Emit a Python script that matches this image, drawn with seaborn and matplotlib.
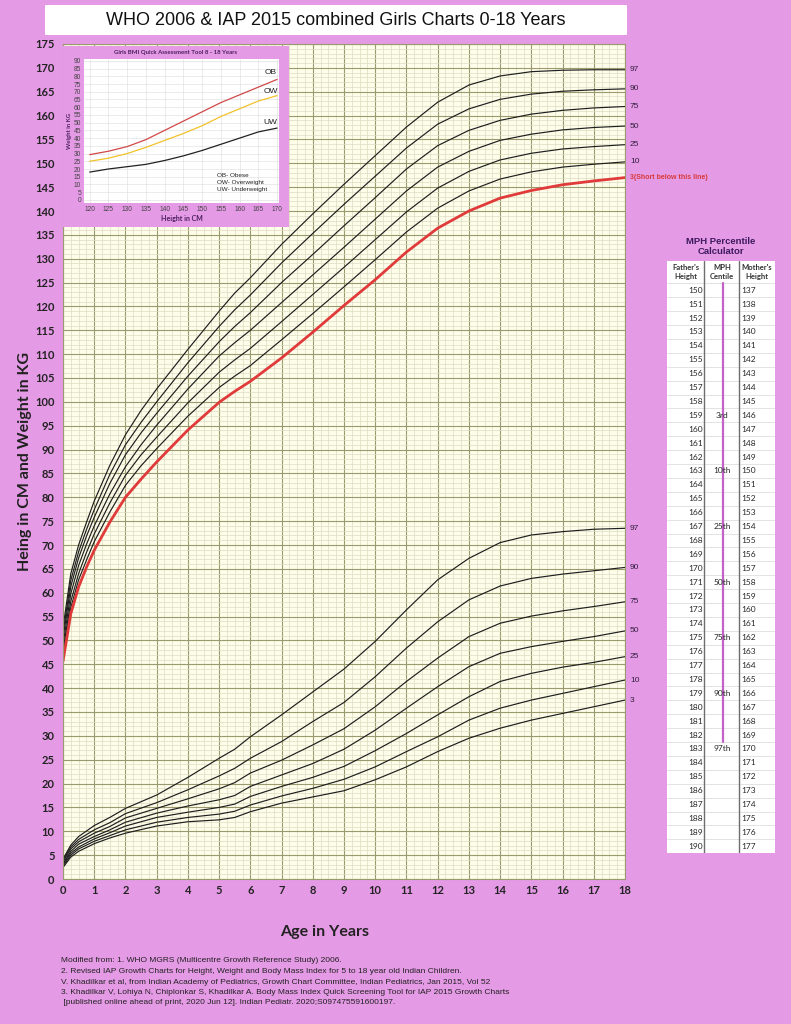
import numpy as np
import pandas as pd
import matplotlib
matplotlib.use("Agg")
import matplotlib.pyplot as plt
import seaborn as sns
from matplotlib.patches import Rectangle

# -----------------------------
# Data
# -----------------------------
pct_labels = ["97", "90", "75", "50", "25", "10", "3"]

# height (cm) by age
ages_h = [0, 0.25, 0.5, 0.75, 1, 1.5, 2, 2.5, 3, 4, 5, 5.5, 6, 7, 8, 9, 10, 11, 12, 13, 14, 15, 16, 17, 18]
h97 = [52.7, 64.0, 70.0, 74.7, 79.2, 86.7, 93.1, 98.2, 102.7, 111.0, 119.0, 122.8, 126.0, 133.0, 139.4, 145.6, 151.6, 157.6, 162.8, 166.4, 168.3, 169.2, 169.5, 169.6, 169.6]
h90 = [51.5, 62.6, 68.6, 73.2, 77.4, 84.8, 91.0, 95.7, 100.0, 108.2, 115.8, 119.3, 122.4, 129.1, 135.3, 141.4, 147.3, 153.2, 158.2, 161.4, 163.4, 164.5, 165.1, 165.4, 165.6]
h75 = [50.4, 61.3, 67.3, 71.8, 75.8, 82.9, 88.9, 93.5, 97.6, 105.4, 112.6, 115.8, 118.7, 125.0, 130.9, 136.9, 142.8, 148.8, 153.7, 156.9, 159.0, 160.3, 161.1, 161.6, 161.9]
h50 = [49.1, 59.8, 65.7, 70.1, 74.0, 80.7, 86.4, 91.0, 95.1, 102.7, 109.6, 112.4, 115.0, 120.8, 126.6, 132.4, 138.3, 144.2, 149.2, 152.5, 154.8, 156.1, 157.0, 157.5, 157.8]
h25 = [47.9, 58.2, 64.0, 68.4, 72.3, 78.8, 84.6, 88.9, 92.6, 99.8, 106.2, 108.8, 111.2, 116.8, 122.5, 128.2, 134.0, 139.8, 144.8, 148.3, 150.7, 152.1, 153.0, 153.5, 153.9]
h10 = [46.8, 56.9, 62.7, 66.8, 70.7, 76.9, 82.5, 86.6, 90.2, 97.0, 103.0, 105.4, 107.6, 113.0, 118.5, 124.1, 129.8, 135.6, 140.6, 144.2, 146.7, 148.2, 149.2, 149.8, 150.3]
h3 = [45.6, 55.6, 61.2, 65.3, 68.9, 74.8, 80.0, 83.8, 87.4, 94.1, 99.9, 102.2, 104.3, 109.2, 114.6, 120.2, 125.6, 131.4, 136.4, 140.0, 142.7, 144.3, 145.5, 146.3, 147.0]

# weight (kg) by age
ages_w = [0, 0.25, 0.5, 1, 1.5, 2, 3, 4, 5, 5.5, 6, 7, 8, 9, 10, 11, 12, 13, 14, 15, 16, 17, 18]
w97 = [4.2, 7.1, 8.9, 11.2, 12.9, 14.8, 17.6, 21.3, 25.3, 27.2, 29.8, 34.4, 39.2, 44.0, 49.8, 56.4, 62.7, 67.2, 70.5, 72.1, 72.8, 73.3, 73.5]
w90 = [3.9, 6.7, 8.3, 10.3, 11.8, 13.7, 16.0, 18.7, 21.6, 23.2, 25.3, 28.8, 33.0, 37.0, 42.4, 48.4, 53.9, 58.5, 61.4, 63.0, 63.9, 64.6, 65.3]
w75 = [3.6, 6.3, 7.8, 9.6, 11.0, 12.8, 14.8, 16.8, 18.9, 20.2, 22.2, 24.9, 28.1, 31.5, 36.1, 41.4, 46.3, 50.8, 53.6, 55.1, 56.2, 57.1, 58.1]
w50 = [3.2, 5.8, 7.3, 8.9, 10.3, 11.9, 13.8, 15.3, 16.6, 17.5, 19.4, 21.8, 24.2, 27.2, 31.2, 35.8, 40.3, 44.5, 47.3, 48.7, 49.8, 50.8, 52.0]
w25 = [3.0, 5.4, 6.7, 8.4, 9.7, 11.1, 12.9, 14.0, 15.0, 15.7, 17.3, 19.4, 21.3, 23.6, 26.9, 30.5, 34.4, 38.2, 41.4, 43.1, 44.4, 45.4, 46.6]
w10 = [2.7, 5.0, 6.3, 7.9, 9.1, 10.3, 11.9, 12.9, 13.6, 14.2, 15.5, 17.4, 19.0, 20.9, 23.5, 26.7, 29.8, 33.3, 35.8, 37.5, 38.9, 40.3, 41.7]
w3 = [2.4, 4.6, 5.8, 7.4, 8.6, 9.6, 11.1, 12.0, 12.4, 12.9, 14.1, 15.9, 17.2, 18.5, 20.8, 23.5, 26.7, 29.5, 31.6, 33.3, 34.7, 36.1, 37.5]

# BMI quick assessment inset
bmi_height = [120, 125, 130, 135, 140, 145, 150, 155, 160, 165, 170]
bmi_ob = [29.3, 31.5, 34.5, 39.0, 45.0, 51.0, 57.0, 63.0, 68.0, 73.0, 78.0]
bmi_ow = [25.0, 27.0, 30.0, 34.0, 38.5, 43.0, 48.0, 54.0, 59.0, 64.0, 67.5]
bmi_uw = [18.0, 20.0, 21.5, 23.0, 25.5, 28.5, 32.0, 36.0, 40.0, 44.0, 46.5]

# MPH percentile calculator
father_h = [150, 151, 152, 153, 154, 155, 156, 157, 158, 159, 160, 161, 162, 163, 164, 165, 166, 167, 168, 169,
            170, 171, 172, 173, 174, 175, 176, 177, 178, 179, 180, 181, 182, 183, 184, 185, 186, 187, 188, 189, 190]
mother_h = [137, 138, 139, 140, 141, 142, 143, 144, 145, 146, 147, 148, 149, 150, 151, 152, 153, 154, 155, 156,
            157, 158, 159, 160, 161, 162, 163, 164, 165, 166, 167, 168, 169, 170, 171, 172, 173, 174, 175, 176, 177]
centile_names = ["3rd", "10th", "25th", "50th", "75th", "90th", "97th"]
centile_father = [159, 163, 167, 171, 175, 179, 183]
mph_bar = [150, 182]

refs = [
    "Modified from: 1. WHO MGRS (Multicentre Growth Reference Study) 2006.",
    "2. Revised IAP Growth Charts for Height, Weight and Body Mass Index for 5 to 18 year old Indian Children.",
    "V. Khadilkar et al, from Indian Academy of Pediatrics, Growth Chart Committee, Indian Pediatrics, Jan 2015, Vol 52",
    "3. Khadilkar V, Lohiya N, Chiplonkar S, Khadilkar A. Body Mass Index Quick Screening Tool for IAP 2015 Growth Charts",
    " [published online ahead of print, 2020 Jun 12]. Indian Pediatr. 2020;S097475591600197.",
]

# -----------------------------
# Style
# -----------------------------
sns.set_style("white")
plt.rcParams["font.family"] = ["Liberation Sans", "DejaVu Sans"]
LATO = ["Lato", "DejaVu Sans"]

PINK = "#e59ae6"
CREAM = "#fdfdea"
W, H = 791, 1024


def fx(px):
    return px / W


def fy(py):
    return 1 - py / H


fig = plt.figure(figsize=(7.91, 10.24), dpi=100, facecolor=PINK)

# title box
fig.patches.append(Rectangle((fx(45), fy(35)), fx(627) - fx(45), fy(5) - fy(35),
                             transform=fig.transFigure, facecolor="white", edgecolor="none"))
fig.text(fx(336), fy(20.5), "WHO 2006 & IAP 2015 combined Girls Charts 0-18 Years",
         ha="center", va="center", fontsize=13, color="#111111")

# -----------------------------
# Main growth chart
# -----------------------------
ax = fig.add_axes([fx(63), fy(879), fx(625) - fx(63), fy(44) - fy(879)])
ax.set_facecolor(CREAM)
ax.set_xlim(0, 18)
ax.set_ylim(0, 175)
ax.set_xticks(np.arange(0, 19, 1))
ax.set_xticks(np.arange(0, 18.01, 0.25), minor=True)
ax.set_yticks(np.arange(0, 176, 5))
ax.set_yticks(np.arange(0, 176, 1), minor=True)
ax.grid(which="major", color="#9a9a6e", lw=0.8)
ax.grid(which="minor", color="#dcdcc2", lw=0.5)
ax.set_axisbelow(True)
ax.tick_params(which="both", length=0)
ax.tick_params(axis="y", pad=6, labelsize=8)
ax.tick_params(axis="x", pad=4, labelsize=8)
for t in ax.get_xticklabels() + ax.get_yticklabels():
    t.set_fontweight("bold")
    t.set_fontfamily(LATO)
    t.set_color("#222222")
for s in ax.spines.values():
    s.set_color("#9a9a6e")
    s.set_linewidth(0.8)

height_series = [h97, h90, h75, h50, h25, h10, h3]
weight_series = [w97, w90, w75, w50, w25, w10, w3]

for vals, lab in zip(height_series, pct_labels):
    red = lab == "3"
    sns.lineplot(x=ages_h, y=vals, ax=ax, color="#e03a3a" if red else "#1e1e1e",
                 lw=2.0 if red else 0.85)
    if red:
        ax.text(18.16, vals[-1], "3(Short below this line)", va="center", ha="left",
                fontsize=5, fontweight="bold", color="#d83a3a", clip_on=False)
    else:
        ax.text(18.16, vals[-1], lab, va="center", ha="left", fontsize=6,
                color="#332040", clip_on=False)

for vals, lab in zip(weight_series, pct_labels):
    sns.lineplot(x=ages_w, y=vals, ax=ax, color="#1e1e1e", lw=0.85)
    ax.text(18.16, vals[-1], lab, va="center", ha="left", fontsize=6,
            color="#332040", clip_on=False)

ax.set_xlabel("Age in Years", fontsize=11.5, fontweight="bold", color="#222222", family=LATO)
ax.xaxis.set_label_coords(0.466, -0.055)
ax.set_ylabel("Heing in CM and Weight in KG", fontsize=11.5, fontweight="bold",
              color="#222222", family=LATO)
ax.yaxis.set_label_coords(-0.055, 0.5)

# -----------------------------
# BMI inset
# -----------------------------
box = fig.add_axes([fx(63), fy(227), fx(289) - fx(63), fy(45.5) - fy(227)])
box.set_facecolor(PINK)
box.set_xticks([])
box.set_yticks([])
for s in box.spines.values():
    s.set_visible(False)

fig.text(fx(175), fy(52.7), "Girls BMI Quick Assessment Tool 8 - 18 Years", ha="center",
         va="center", fontsize=4.3, fontweight="bold", color="#4b1e5e", family=LATO)

ins = fig.add_axes([fx(84), fy(203), fx(279) - fx(84), fy(59.3) - fy(203)])
ins.set_facecolor("white")
ins.set_xlim(118.5, 170.5)
ins.set_ylim(-2, 91)
ins.set_xticks(np.arange(120, 171, 5))
ins.set_yticks(np.arange(0, 91, 5))
ins.grid(color="#dcdcdc", lw=0.4)
ins.tick_params(length=0, labelsize=4.8, pad=2, colors="#444444")
for s in ins.spines.values():
    s.set_visible(False)
sns.lineplot(x=bmi_height, y=bmi_ob, ax=ins, color="#d04848", lw=0.9)
sns.lineplot(x=bmi_height, y=bmi_ow, ax=ins, color="#f0c22a", lw=0.9)
sns.lineplot(x=bmi_height, y=bmi_uw, ax=ins, color="#222222", lw=0.9)
ins.text(168.2, 82.3, "OB", ha="center", va="center", fontsize=6, color="#222222")
ins.text(168.2, 69.9, "OW", ha="center", va="center", fontsize=6, color="#222222")
ins.text(168.2, 49.9, "UW", ha="center", va="center", fontsize=6, color="#222222")
ins.text(154.0, 15.6, "OB- Obese", ha="left", va="center", fontsize=4.6, color="#222222")
ins.text(154.0, 11.1, "OW- Overweight", ha="left", va="center", fontsize=4.6, color="#222222")
ins.text(154.0, 6.6, "UW- Underweight", ha="left", va="center", fontsize=4.6, color="#222222")
ins.set_xlabel("Height in CM", fontsize=5, fontweight="bold", color="#4b1e5e", labelpad=1.5,
               family=LATO)
ins.set_ylabel("Weight in KG", fontsize=4.3, fontweight="bold", color="#4b1e5e", labelpad=1,
               family=LATO)

# -----------------------------
# MPH percentile calculator table
# -----------------------------
fig.text(fx(721), fy(241), "MPH Percentile", ha="center", va="center", fontsize=6.8,
         fontweight="bold", color="#3d1a5e")
fig.text(fx(721), fy(251.5), "Calculator", ha="center", va="center", fontsize=6.8,
         fontweight="bold", color="#3d1a5e")

tbl = fig.add_axes([fx(667), fy(853), fx(775) - fx(667), fy(261) - fy(853)])
tbl.set_xlim(667, 775)
tbl.set_ylim(853, 261)
tbl.axis("off")
tbl.add_patch(Rectangle((667, 261), 108, 592, facecolor="white", edgecolor="none"))

row0, row_h = 283.3, 13.9
for i in range(len(father_h) + 1):
    y = row0 + i * row_h
    tbl.plot([667, 775], [y, y], color="#d8d8d8", lw=0.5)
tbl.plot([704.3, 704.3], [261, 853], color="#6e6e6e", lw=1.0)
tbl.plot([739.3, 739.3], [261, 853], color="#6e6e6e", lw=1.0)

i0 = father_h.index(mph_bar[0])
i1 = father_h.index(mph_bar[1])
tbl.plot([722.5, 722.5], [row0 + i0 * row_h, row0 + (i1 + 1) * row_h], color="#c262c8", lw=1.6)

hdr_kw = dict(ha="center", va="center", fontsize=5.5, fontweight="bold", color="#333333",
              linespacing=1.45, family=LATO)
tbl.text(685.5, 272, "Father's\nHeight", **hdr_kw)
tbl.text(722, 272, "MPH\nCentile", **hdr_kw)
tbl.text(757, 272, "Mother's\nHeight", **hdr_kw)

cell_kw = dict(va="center", fontsize=6, color="#262626", family=LATO)
for i, (fh, mh) in enumerate(zip(father_h, mother_h)):
    yc = row0 + (i + 0.5) * row_h
    tbl.text(702.8, yc, str(fh), ha="right", **cell_kw)
    tbl.text(740.8, yc, str(mh), ha="left", **cell_kw)
for name, fh in zip(centile_names, centile_father):
    yc = row0 + (father_h.index(fh) + 0.5) * row_h
    tbl.text(722, yc, name, ha="center", zorder=5, **cell_kw)

# -----------------------------
# References
# -----------------------------
ref_y = [960.7, 971.7, 982.3, 992.7, 1002.7]
for line, py in zip(refs, ref_y):
    fig.text(fx(61), fy(py), line, ha="left", va="center", fontsize=6, color="#222222")

fig.savefig("out.png", dpi=100, facecolor=PINK)
